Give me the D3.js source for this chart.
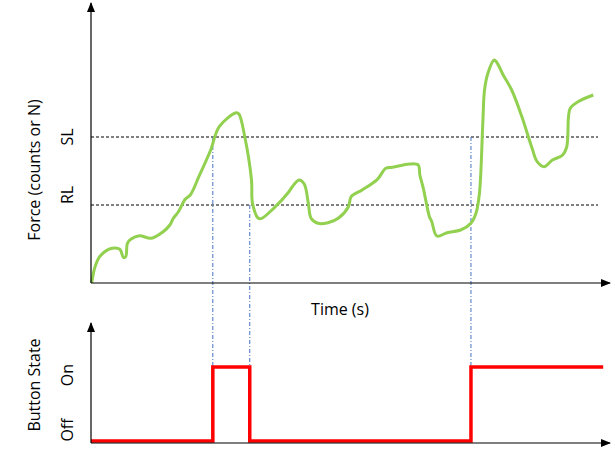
<!DOCTYPE html><html><head><meta charset="utf-8"><script src="https://d3js.org/d3.v7.min.js"></script>
<style>body{margin:0;background:#fff}text{font-family:"Open Sans",sans-serif;font-size:16px;fill:#000}</style></head><body><svg id="c" width="615" height="465"></svg>
<script>
const time=[0.7,4,9,20.7,28.3,31.7,34,35.7,39,47.3,59,70.7,77.3,80.7,85.7,92.3,97.3,105.7,117.3,125.7,142.3,145,150.7,157.3,158.3,164,167.3,179,194,197.3,204,209,213,215.7,222.3,232.3,242.3,252.3,255,265.7,280.7,289,295.7,312.3,320.7,322.3,325.7,331.7,334,339,349,362.3,372.3,377.3,380.7,384,385.7,389,395,397.3,404,412.3,422.3,432.3,437.3,444,452.3,462.3,466.3,468,469.7,477.3,492.3];
const force=[0.3,16.3,27,34.7,33.7,25.7,26.3,39.7,43.7,47.3,44.7,51.3,58,64.7,71.3,83.7,88,106.3,133,156.3,170.3,169,146.3,103,79.7,64.7,64.7,74.7,91.3,96.3,103,99,79.7,64.7,59.7,60.3,64.7,76.3,86.3,93,103.7,114.7,115.7,119,118,108,94.7,66.3,61.3,47,50.3,53,59.7,69.7,89.7,159.7,193,209.7,223,221.3,208,193,166.3,134.7,121.3,116.3,123,128,136.3,166.3,174.7,181.3,188];
const levels={SL:146,RL:78};
const stateTime=[0,119.4,119.4,155.6,155.6,372.4,372.4,502];
const stateVal=[0,0,1,1,0,0,1,1];
const crossings=[119.4,155.6,372.4];
const svg=d3.select("#c");
const x=d3.scaleLinear().domain([0,517]).range([91,618.5]);
const y=d3.scaleLinear().domain([0,278]).range([283,5]);
const y2=d3.scaleLinear().domain([0,1]).range([441,367]);
Object.entries(levels).forEach(([k,v])=>{
 svg.append("line").attr("x1",91).attr("x2",598).attr("y1",y(v)).attr("y2",y(v)).attr("stroke","#000").attr("stroke-dasharray","3,2").attr("stroke-width",1);
});
crossings.forEach((c,i)=>{
 svg.append("line").attr("x1",x(c)).attr("x2",x(c)).attr("y1",y(i==1?levels.RL:levels.SL)).attr("y2",y2(1)).attr("stroke","#4472c4").attr("stroke-dasharray","4,2,1,2").attr("stroke-width",1);
});
svg.append("path").datum(time.map((t,i)=>[t,force[i]])).attr("fill","none").attr("stroke","#92d050").attr("stroke-width",3).attr("stroke-linejoin","round").attr("d",d3.line().x(d=>x(d[0])).y(d=>y(d[1])).curve(d3.curveCatmullRom));
svg.append("path").datum(stateTime.map((t,i)=>[t,stateVal[i]])).attr("fill","none").attr("stroke","#ff0000").attr("stroke-width",3.5).attr("d",d3.line().x(d=>x(d[0])).y(d=>y2(d[1])));
svg.append("defs").append("marker").attr("id","ar").attr("viewBox","0 0 10 10").attr("refX",9).attr("refY",5).attr("markerWidth",10).attr("markerHeight",10).attr("markerUnits","userSpaceOnUse").attr("orient","auto").append("path").attr("d","M0,1L10,5L0,9Z").attr("fill","#000");
[[91,283,91,3],[91,283,610,283],[91,443,91,323],[91,443,610,443]].forEach(a=>svg.append("line").attr("x1",a[0]).attr("y1",a[1]).attr("x2",a[2]).attr("y2",a[3]).attr("stroke","#000").attr("stroke-width",1.2).attr("marker-end","url(#ar)"));
const rt=(t,cx,cy)=>svg.append("text").attr("transform",`translate(${cx},${cy}) rotate(-90)`).attr("text-anchor","middle").text(t);
rt("Force (counts or N)",40,170);rt("SL",73,y(levels.SL));rt("RL",73,y(levels.RL)-10);
rt("Button State",40,385);rt("On",73,375);rt("Off",73,430);
svg.append("text").attr("x",340).attr("y",315).attr("text-anchor","middle").text("Time (s)");
</script></body></html>
